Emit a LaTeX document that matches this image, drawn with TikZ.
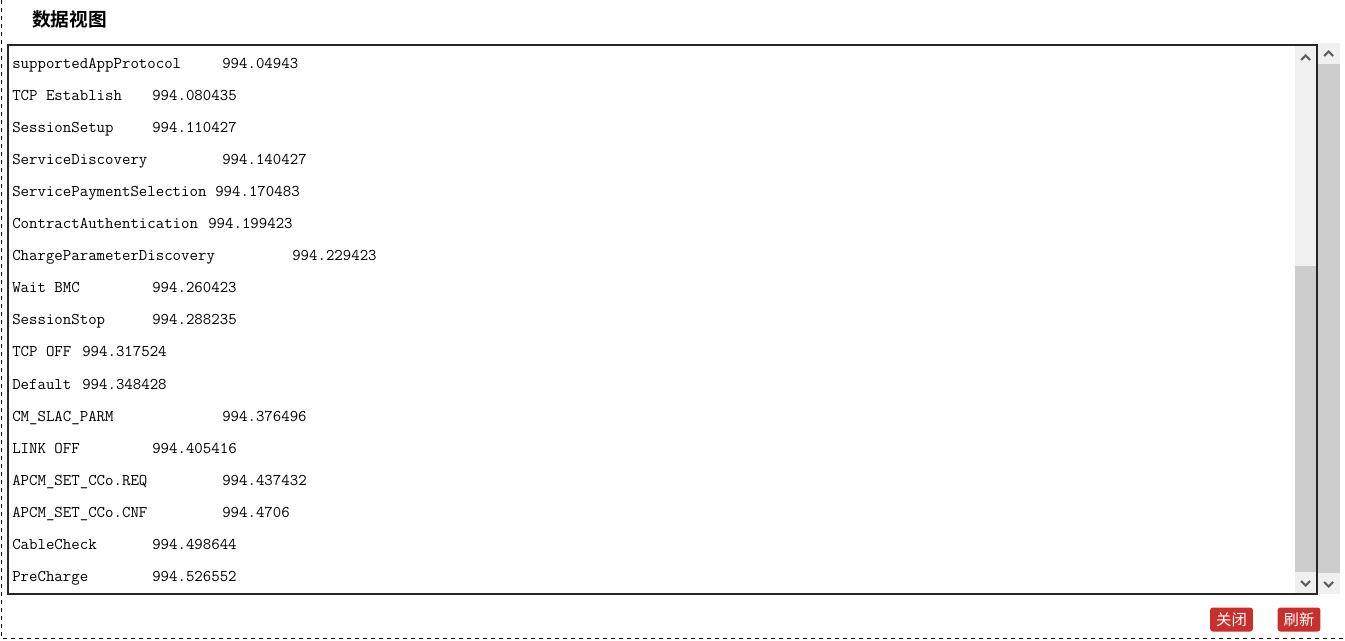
\documentclass[tikz,border=0pt]{standalone}
\usepackage{fontspec}
\newfontfamily\cjk{Noto Sans CJK SC}
\newfontfamily\cjkb{Noto Sans CJK SC Bold}
\definecolor{trk}{HTML}{F0F0F0}
\definecolor{thm}{HTML}{CDCDCD}
\definecolor{arr}{HTML}{606060}
\definecolor{btn}{HTML}{C9302C}
\begin{document}
\begin{tikzpicture}[x=0.75pt,y=-0.75pt,
  row/.style={anchor=base west,inner sep=0pt,font=\ttfamily\fontsize{12.3pt}{14pt}\selectfont},
  btnbox/.style={fill=btn,rounded corners=2pt,text=white,font=\cjk\fontsize{11.5pt}{13pt}\selectfont,minimum width=32pt,minimum height=18pt,inner sep=0pt},
  chev/.style={draw=arr,line width=1.6pt}]
\useasboundingbox (0,0) rectangle (1345,641);
\draw[dashed,line width=0.75pt] (1,0) -- (1,638) -- (1345,638);
\node[anchor=west,inner sep=0pt,font=\cjkb\fontsize{14pt}{16pt}\selectfont] (title) at (32,19) {数据视图};
% scrollbars
\fill[trk] (1295,46) rectangle (1316,593);
\fill[thm] (1295,266) rectangle (1316,572);
\fill[trk] (1318,43) rectangle (1340,594);
\fill[thm] (1318,64) rectangle (1340,573);
\draw[chev] (1301,60) -- (1305.5,55.5) -- (1310,60);
\draw[chev] (1301,581) -- (1305.5,585.5) -- (1310,581);
\draw[chev] (1324,56) -- (1328.5,51.5) -- (1333,56);
\draw[chev] (1324,582) -- (1328.5,586.5) -- (1333,582);
\draw[line width=1.5pt,draw=black!85] (8,45) rectangle (1317,594);
\foreach \t/\n/\x [count=\i from 0] in {
 supportedAppProtocol/994.04943/222,
 TCP Establish/994.080435/152,
 SessionSetup/994.110427/152,
 ServiceDiscovery/994.140427/222,
 ServicePaymentSelection/994.170483/215,
 ContractAuthentication/994.199423/208,
 ChargeParameterDiscovery/994.229423/292,
 Wait BMC/994.260423/152,
 SessionStop/994.288235/152,
 TCP OFF/994.317524/82,
 Default/994.348428/82,
 CM\_SLAC\_PARM/994.376496/222,
 LINK OFF/994.405416/152,
 APCM\_SET\_CCo.REQ/994.437432/222,
 APCM\_SET\_CCo.CNF/994.4706/222,
 CableCheck/994.498644/152,
 PreCharge/994.526552/152}{
  \node[row] (l\i) at (12,{69+32*\i}) {\t};
  \node[row] (v\i) at (\x,{69+32*\i}) {\n};
}
\node[btnbox] (close) at (1231.5,619.5) {关闭};
\node[btnbox] (refresh) at (1299,619.5) {刷新};
\end{tikzpicture}
\end{document}
